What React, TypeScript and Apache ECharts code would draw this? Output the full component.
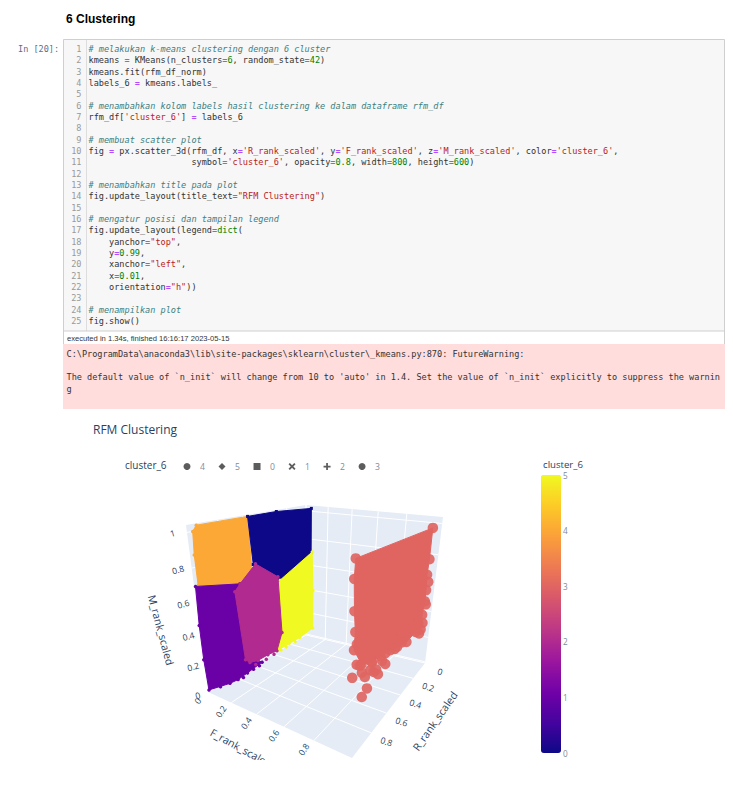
import React, { useEffect, useRef } from "react";
import * as echarts from "echarts";

// ---------- notebook text ----------
const heading = "6 Clustering";
const promptLabel = "In [20]:";
const codeLines = [
  "# melakukan k-means clustering dengan 6 cluster",
  "kmeans = KMeans(n_clusters=6, random_state=42)",
  "kmeans.fit(rfm_df_norm)",
  "labels_6 = kmeans.labels_",
  "",
  "# menambahkan kolom labels hasil clustering ke dalam dataframe rfm_df",
  "rfm_df['cluster_6'] = labels_6",
  "",
  "# membuat scatter plot",
  "fig = px.scatter_3d(rfm_df, x='R_rank_scaled', y='F_rank_scaled', z='M_rank_scaled', color='cluster_6',",
  "                    symbol='cluster_6', opacity=0.8, width=800, height=600)",
  "",
  "# menambahkan title pada plot",
  'fig.update_layout(title_text="RFM Clustering")',
  "",
  "# mengatur posisi dan tampilan legend",
  "fig.update_layout(legend=dict(",
  '    yanchor="top",',
  "    y=0.99,",
  '    xanchor="left",',
  "    x=0.01,",
  '    orientation="h"))',
  "",
  "# menampilkan plot",
  "fig.show()",
];
const execInfo = "executed in 1.34s, finished 16:16:17 2023-05-15";
const warningLines = [
  "C:\\ProgramData\\anaconda3\\lib\\site-packages\\sklearn\\cluster\\_kmeans.py:870: FutureWarning:",
  "",
  "The default value of `n_init` will change from 10 to 'auto' in 1.4. Set the value of `n_init` explicitly to suppress the warnin",
  "g",
];

// ---------- chart data: [R_rank_scaled, F_rank_scaled, M_rank_scaled] ----------
const cluster4Hull = [
  [0.99, 0, 1.0], [0.96, 0, 1.03], [0.56, 0, 1.03], [0.555, 0, 0.67], [0.65, 0, 0.62], [1.0, 0, 0.69], [1.0, 0, 0.87],
];
const cluster0Hull = [
  [0.56, 0, 1.03], [0.3, 0, 1.03], [0, 0.05, 1.02], [0, 0.05, 0.7], [0.29, 0, 0.55], [0.54, 0, 0.72],
];
const cluster5Hull = [
  [0, 0.06, 0.705], [0, 0.07, 0.4], [0, 0.07, 0.07], [0.08, 0, 0], [0.21, 0, 0], [0.34, 0, 0], [0.34, 0, 0.09], [0.29, 0, 0.55],
];
const cluster5Loose = [[0.16, 0.02, 0], [0.27, 0.02, 0], [0.33, 0.02, 0]];
const cluster1Hull = [
  [1.02, 0, 0.69], [0.67, 0, 0.62], [0.72, 0, 0.58], [0.68, 0, 0.11], [0.55, 0.03, 0], [0.72, 0.05, 0], [0.82, 0.06, 0],
  [0.885, 0.05, 0], [1.02, 0, 0], [1.03, 0, 0.22], [1.03, 0, 0.45],
];
const cluster1Loose = [[0.95, 0.03, 0], [0.78, 0.07, 0], [0.66, 0.05, 0], [0.6, 0.05, 0]];
const cluster2Hull = [
  [0.52, 0, 0.72], [0.31, 0, 0.58], [0.29, 0, 0.13], [0.355, 0, 0], [0.455, 0, 0.01], [0.56, 0, 0.01], [0.64, 0, 0.03],
  [0.68, 0, 0.07], [0.72, 0, 0.58], [0.67, 0, 0.62],
];
const cluster2Loose = [[0.41, 0.02, 0], [0.5, 0.025, 0], [0.6, 0.015, 0]];
const cluster3Hull = [
  [0.05, 1, 0.98], [0.85, 1, 0.985], [0.87, 1, 0.89], [0.88, 1, 0.73], [0.88, 1, 0.62], [0.9, 1, 0.53], [0.83, 1, 0.42],
  [0.72, 1, 0.38], [0.62, 1, 0.37], [0.5, 1, 0.35], [0.41, 1, 0.33], [0.28, 1, 0.3], [0.15, 1, 0.31], [0.07, 1, 0.29],
  [0.07, 1, 0.4], [0.05, 1, 0.49], [0.05, 1, 0.57], [0.06, 1, 0.68], [0.05, 1, 0.78],
];
const cluster3Loose = [
  [0.88, 1, 0.44], [0.93, 1, 0.39], [0.78, 1, 0.25], [0.84, 1, 0.23], [0.56, 1, 0.36], [0.65, 1, 0.27], [0.74, 1, 0.34],
  [0.83, 1, 0.37], [0.25, 1, 0.43], [0.38, 1, 0.43], [0.87, 1, 0.55], [0.44, 1, 0.39], [0.05, 1, 0.33], [0.12, 1, 0.36],
  [0.7, 1, 0.31], [0.6, 1, 0.33], [0.85, 1, 0.42], [0.72, 1, 0.38], [0.56, 1, 0.29], [0.8, 1, 0.33], [0.67, 1, 0.31],
  [0.44, 1, 0.33], [0.35, 1, 0.33], [0.03, 1, 0.62], [0.03, 1, 0.46], [0.09, 1, 0.27],
];

// draw order, back to front
const clusterLayers = [
  { id: 4, hull: cluster4Hull, loose: [] as number[][], symbol: "circle", size: 3.5, opacity: 1 },
  { id: 0, hull: cluster0Hull, loose: [], symbol: "rect", size: 3, opacity: 1 },
  { id: 5, hull: cluster5Hull, loose: cluster5Loose, symbol: "diamond", size: 4, opacity: 1 },
  { id: 1, hull: cluster1Hull, loose: cluster1Loose, symbol: "circle", size: 3.5, opacity: 1 },
  { id: 2, hull: cluster2Hull, loose: cluster2Loose, symbol: "circle", size: 3.5, opacity: 1 },
  { id: 3, hull: cluster3Hull, loose: cluster3Loose, symbol: "circle", size: 10.5, opacity: 0.92 },
];

const legendOrder = ["4", "5", "0", "1", "2", "3"];
const crossPath = "path://M3,0H5V3H8V5H5V8H3V5H0V3H3Z";
const xPath = "path://M1.5,0L4,2.5L6.5,0L8,1.5L5.5,4L8,6.5L6.5,8L4,5.5L1.5,8L0,6.5L2.5,4L0,1.5Z";
const legendIcons = ["circle", "diamond", "rect", xPath, crossPath, "circle"];
const plasma = ["#0d0887", "#46039f", "#7201a8", "#9c179e", "#bd3786", "#d8576b", "#ed7953", "#fb9f3a", "#fdca26", "#f0f921"];
const rTicks = [0, 0.2, 0.4, 0.6, 0.8];
const fTicks = [0, 0.2, 0.4, 0.6, 0.8];
const mTicks = [0, 0.2, 0.4, 0.6, 0.8, 1];

// ---------- scene camera (fitted to the picture) ----------
const range = { R: [0, 1.03], F: [0, 1.03], M: [-0.01, 1.04] };
const depth = { R: 0.8, F: 0.8, M: 0.85 };
// corner[r][f][m]
const corner = [
  [[[306, 635], [306, 505]], [[425, 663], [443, 517]]],
  [[[208, 692], [186, 525]], [[352, 758], [339, 556]]],
];
function frac(v: number, a: "R" | "F" | "M") {
  const n = (v - range[a][0]) / (range[a][1] - range[a][0]);
  const w = depth[a];
  return (n * w) / (1 - n + n * w);
}
function project(R: number, F: number, M: number) {
  const a = frac(R, "R"), b = frac(F, "F"), c = frac(M, "M");
  const out = [0, 0];
  for (let r = 0; r < 2; r++)
    for (let f = 0; f < 2; f++)
      for (let m = 0; m < 2; m++) {
        const k = (r ? a : 1 - a) * (f ? b : 1 - b) * (m ? c : 1 - c);
        out[0] += k * corner[r][f][m][0];
        out[1] += k * corner[r][f][m][1];
      }
  return out;
}
const P3 = (p: number[]) => project(p[0], p[1], p[2]);

const AXIS = "#2a3f5f";
const SANS = "'Open Sans', sans-serif";
const MONO = "'DejaVu Sans Mono', monospace";
const CW = 5.145;

function tokenize(line: string) {
  if (line.startsWith("#")) return [{ col: 0, text: line, fill: "#408080", italic: true }];
  const re = /('[^']*'|"[^"]*")|(=)|(\b\d+(?:\.\d+)?\b)|(\bdict\b)/g;
  const out: any[] = [];
  let last = 0;
  let m: RegExpExecArray | null;
  while ((m = re.exec(line))) {
    if (m.index > last) out.push({ col: last, text: line.slice(last, m.index), fill: "#333333" });
    const fill = m[1] ? "#BA2121" : m[2] ? "#AA22FF" : "#008000";
    out.push({ col: m.index, text: m[0], fill });
    last = m.index + m[0].length;
  }
  if (last < line.length) out.push({ col: last, text: line.slice(last), fill: "#333333" });
  return out;
}

function notebookGraphics() {
  const els: any[] = [];
  const txt = (x: number, y: number, text: string, fill: string, extra: any = {}) =>
    els.push({
      type: "text", x, y, silent: true,
      style: { text, fill, fontFamily: MONO, fontSize: 8.55, verticalAlign: "middle", ...extra },
    });
  txt(66, 18.5, heading, "#000000", { fontFamily: "'Liberation Sans', sans-serif", fontSize: 12, fontWeight: "bold" });
  els.push({ type: "rect", shape: { x: 63.5, y: 39.5, width: 661, height: 305 }, style: { fill: "#f7f7f7", stroke: "#cfcfcf", lineWidth: 1 }, silent: true });
  els.push({ type: "line", shape: { x1: 86.5, y1: 40, x2: 86.5, y2: 331 }, style: { stroke: "#dddddd", lineWidth: 1 }, silent: true });
  els.push({ type: "rect", shape: { x: 64, y: 331, width: 660, height: 13 }, style: { fill: "#ffffff" }, silent: true });
  els.push({ type: "line", shape: { x1: 64, y1: 331, x2: 724, y2: 331 }, style: { stroke: "#cfcfcf", lineWidth: 1 }, silent: true });
  txt(18, 48.5, promptLabel, "#5f6b8a");
  codeLines.forEach((line, i) => {
    const y = 49 + i * 11.33;
    txt(81.5, y, String(i + 1), "#999999", { align: "right" });
    tokenize(line).forEach((t: any) =>
      txt(88.5 + t.col * CW, y, t.text, t.fill, t.italic ? { fontStyle: "italic" } : {})
    );
  });
  txt(67, 338, execInfo, "#333333", { fontFamily: "'Liberation Sans', sans-serif", fontSize: 7.6 });
  els.push({ type: "rect", shape: { x: 63, y: 344, width: 662, height: 65 }, style: { fill: "#ffdddd" }, silent: true });
  const wy = [354, 366, 377, 389];
  warningLines.forEach((line, i) => { if (line) txt(66.5, wy[i], line, "#333333"); });
  els.push({
    type: "text", x: 125, y: 465, silent: true,
    style: { text: "cluster_6", fill: AXIS, fontFamily: SANS, fontSize: 10, verticalAlign: "middle" },
  });
  els.push({
    type: "text", x: 563, y: 464, silent: true,
    style: { text: "cluster_6", fill: AXIS, fontFamily: SANS, fontSize: 9.6, align: "center", verticalAlign: "middle" },
  });
  // the scene is cut off at the bottom of the plot frame
  els.push({ type: "rect", z: 100, shape: { x: 195, y: 760, width: 130, height: 20 }, style: { fill: "#ffffff" }, silent: true });
  return els;
}

function sceneItem(_p: any, api: any) {
  const c = (p: number[]) => api.coord(P3(p));
  const [r0, r1] = range.R, [f0, f1] = range.F, [m0, m1] = range.M;
  const face = (pts: number[][]) => ({
    type: "polygon", silent: true,
    shape: { points: pts.map(c) },
    style: { fill: "#E5ECF6" },
  });
  const seg = (a: number[], b: number[]) => {
    const A = c(a), B = c(b);
    return { type: "line", silent: true, shape: { x1: A[0], y1: A[1], x2: B[0], y2: B[1] }, style: { stroke: "#ffffff", lineWidth: 1 } };
  };
  const children: any[] = [
    face([[r0, f0, m0], [r1, f0, m0], [r1, f0, m1], [r0, f0, m1]]),
    face([[r0, f0, m0], [r0, f1, m0], [r0, f1, m1], [r0, f0, m1]]),
    face([[r0, f0, m0], [r1, f0, m0], [r1, f1, m0], [r0, f1, m0]]),
  ];
  rTicks.forEach((v) => { children.push(seg([v, f0, m0], [v, f1, m0]), seg([v, f0, m0], [v, f0, m1])); });
  fTicks.forEach((v) => { children.push(seg([r0, v, m0], [r1, v, m0]), seg([r0, v, m0], [r0, v, m1])); });
  mTicks.forEach((v) => { children.push(seg([r0, f0, v], [r1, f0, v]), seg([r0, f0, v], [r0, f1, v])); });
  return { type: "group", children };
}

function axisTextItem(_p: any, api: any) {
  const [r0, r1] = range.R, [f0, f1] = range.F, [m0] = range.M;
  const label = (p: number[], dx: number, dy: number, text: string, deg: number, size = 8.6) => {
    const q = api.coord(P3(p));
    return {
      type: "text", silent: true, x: q[0] + dx, y: q[1] + dy, rotation: (deg * Math.PI) / 180,
      style: { text, fill: AXIS, fontFamily: SANS, fontSize: size, align: "center", verticalAlign: "middle" },
    };
  };
  const children: any[] = [];
  mTicks.forEach((v) => children.push(label([r1, f0, v], -10 - 4.5 * v, 5 - 4 * v, String(v), 15)));
  fTicks.forEach((v) => children.push(label([r1, v, m0], -10, 9, String(v), 55)));
  rTicks.forEach((v) => children.push(label([v, f1, m0], 15, 9, String(v), -18)));
  const q = (x: number, y: number, text: string, deg: number) => ({
    type: "text", silent: true, x, y, rotation: (deg * Math.PI) / 180,
    style: { text, fill: AXIS, fontFamily: SANS, fontSize: 10.6, align: "center", verticalAlign: "middle" },
  });
  children.push(q(api.coord([161, 630])[0], api.coord([161, 630])[1], "M_rank_scaled", -75));
  children.push(q(api.coord([241, 748])[0], api.coord([241, 748])[1], "F_rank_scaled", -29));
  children.push(q(api.coord([435, 721])[0], api.coord([435, 721])[1], "R_rank_scaled", 55));
  return { type: "group", children };
}

function buildOption() {
  const series: any[] = [
    { type: "custom", silent: true, xAxisIndex: 0, yAxisIndex: 0, renderItem: sceneItem, data: [[0, 0]], z: 1 },
  ];
  const mapped: number[] = [];
  clusterLayers.forEach((layer, li) => {
    const pts = layer.hull.map(P3);
    mapped.push(series.length);
    series.push({
      type: "custom", silent: true, xAxisIndex: 0, yAxisIndex: 0, z: 3 + li * 2,
      data: [[pts[0][0], pts[0][1], layer.id]],
      dimensions: ["x", "y", "cluster"],
      encode: { x: 0, y: 1 },
      renderItem: (_p: any, api: any) => ({
        type: "polygon",
        shape: { points: pts.map((q) => api.coord(q)) },
        style: { fill: api.visual("color"), stroke: api.visual("color"), lineWidth: 1 },
      }),
    });
    mapped.push(series.length);
    series.push({
      type: "scatter", silent: true, xAxisIndex: 0, yAxisIndex: 0, z: 4 + li * 2,
      symbol: layer.symbol, symbolSize: layer.size,
      itemStyle: { opacity: layer.opacity },
      data: [...layer.hull, ...layer.loose].map((p) => [...P3(p), layer.id]),
    });
  });
  series.push({ type: "custom", silent: true, xAxisIndex: 0, yAxisIndex: 0, renderItem: axisTextItem, data: [[0, 0]], z: 30 });
  legendOrder.forEach((name) =>
    series.push({ type: "scatter", name, xAxisIndex: 0, yAxisIndex: 0, data: [], itemStyle: { color: "#333333" } })
  );

  return {
    animation: false,
    backgroundColor: "#ffffff",
    title: {
      text: "RFM Clustering", left: 93, top: 423, padding: 0,
      textStyle: { color: AXIS, fontFamily: SANS, fontSize: 12, fontWeight: "normal" },
    },
    legend: {
      left: 183.5, top: 462, padding: 0, itemWidth: 7, itemHeight: 7, itemGap: 13.6, selectedMode: false,
      textStyle: { color: "#7f8a9c", fontFamily: SANS, fontSize: 8.6, padding: [0, 0, 0, 4.5] },
      data: legendOrder.map((name, i) => ({ name, icon: legendIcons[i] })),
    },
    visualMap: {
      type: "continuous", min: 0, max: 5, dimension: 2, seriesIndex: mapped,
      left: 541, top: 475, itemWidth: 20, itemHeight: 278, padding: 0,
      calculable: false, realtime: false, hoverLink: false, text: undefined,
      inRange: { color: plasma },
    },
    grid: [
      { left: 0, top: 0, width: 733, height: 789 },
      { left: 541, top: 475, width: 20, height: 278 },
    ],
    xAxis: [
      { type: "value", min: 0, max: 733, show: false, gridIndex: 0 },
      { type: "value", min: 0, max: 1, show: false, gridIndex: 1 },
    ],
    yAxis: [
      { type: "value", min: 0, max: 789, inverse: true, show: false, gridIndex: 0 },
      {
        type: "value", min: 0, max: 5, interval: 1, gridIndex: 1, position: "right",
        axisLine: { show: false }, axisTick: { show: false }, splitLine: { show: false },
        axisLabel: { color: "#7f8a9c", fontFamily: SANS, fontSize: 8.2, margin: 2 },
      },
    ],
    graphic: { elements: notebookGraphics() },
    series,
  };
}

export default function App() {
  const ref = useRef<HTMLDivElement>(null);
  useEffect(() => {
    const chart = echarts.init(ref.current!, undefined, { renderer: "svg" });
    chart.setOption(buildOption() as any);
    return () => chart.dispose();
  }, []);
  return <div ref={ref} style={{ position: "absolute", left: 0, top: 0, width: 733, height: 789 }} />;
}
